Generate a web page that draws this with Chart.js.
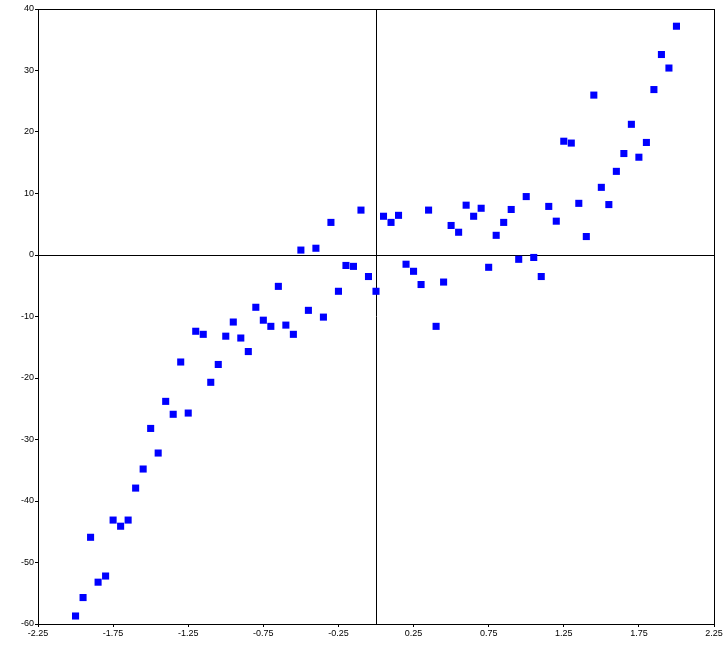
<!DOCTYPE html>
<html>
<head>
  <meta charset="UTF-8">
  <title>Scatter</title>
  <script src="https://cdn.jsdelivr.net/npm/chart.js@4/dist/chart.umd.min.js"></script>
  <style>
    body { margin: 0; background: #fff; }
    canvas { display: block; }
  </style>
  <script id="code">
    // x positions of the points (step 0.05 from -2 to 2)
    var xValues = [
      -2.00, -1.95, -1.90, -1.85, -1.80, -1.75, -1.70, -1.65, -1.60, -1.55,
      -1.50, -1.45, -1.40, -1.35, -1.30, -1.25, -1.20, -1.15, -1.10, -1.05,
      -1.00, -0.95, -0.90, -0.85, -0.80, -0.75, -0.70, -0.65, -0.60, -0.55,
      -0.50, -0.45, -0.40, -0.35, -0.30, -0.25, -0.20, -0.15, -0.10, -0.05,
       0.00,  0.05,  0.10,  0.15,  0.20,  0.25,  0.30,  0.35,  0.40,  0.45,
       0.50,  0.55,  0.60,  0.65,  0.70,  0.75,  0.80,  0.85,  0.90,  0.95,
       1.00,  1.05,  1.10,  1.15,  1.20,  1.25,  1.30,  1.35,  1.40,  1.45,
       1.50,  1.55,  1.60,  1.65,  1.70,  1.75,  1.80,  1.85,  1.90,  1.95,
       2.00
    ];
    // values
    var yValues = [
      -58.7, -55.7, -45.9, -53.2, -52.2, -43.1, -44.1, -43.1, -37.9, -34.8,
      -28.2, -32.2, -23.8, -25.9, -17.4, -25.7, -12.4, -12.9, -20.7, -17.8,
      -13.2, -10.9, -13.5, -15.7,  -8.5, -10.6, -11.6,  -5.1, -11.4, -12.9,
        0.8,  -9.0,   1.1, -10.1,   5.3,  -5.9,  -1.7,  -1.85,  7.3,  -3.5,
       -5.9,   6.3,   5.3,   6.45, -1.5,  -2.65, -4.8,   7.3, -11.6,  -4.4,
        4.8,   3.7,   8.1,   6.3,   7.6,  -2.0,   3.2,   5.3,   7.4,  -0.7,
        9.5,  -0.4,  -3.5,   7.9,   5.5,  18.5,  18.2,   8.4,   3.0,  26.0,
       11.0,   8.2,  13.6,  16.5,  21.25, 15.9,  18.3,  26.9,  32.6,  30.4,
       37.2
    ];
    var xTicks = [-2.25, -1.75, -1.25, -0.75, -0.25, 0.25, 0.75, 1.25, 1.75, 2.25];
    var yTicks = [-60, -50, -40, -30, -20, -10, 0, 10, 20, 30, 40];

    // frame around the plot plus the two zero axes
    var frameLines = {
      id: "frameLines",
      beforeDatasetsDraw: function(chart) {
        var ctx = chart.ctx, a = chart.chartArea;
        var x0 = Math.round(chart.scales.x.getPixelForValue(0)) + 0.5;
        var y0 = Math.round(chart.scales.y.getPixelForValue(0)) + 0.5;
        ctx.save();
        ctx.strokeStyle = "#000";
        ctx.lineWidth = 1;
        ctx.beginPath();
        ctx.moveTo(x0, a.top); ctx.lineTo(x0, a.bottom);
        ctx.moveTo(a.left, y0); ctx.lineTo(a.right, y0);
        ctx.stroke();
        ctx.strokeRect(Math.round(a.left) + 0.5, Math.round(a.top) + 0.5,
          Math.round(a.right - a.left), Math.round(a.bottom - a.top));
        ctx.restore();
      }
    };

    function init() {
      var points = [];
      for (var i = 0; i < xValues.length; i++) {
        points.push({ x: xValues[i], y: yValues[i] });
      }

      var tickFont = { family: "'Liberation Sans', Arial, sans-serif", size: 9 };

      new Chart(document.getElementById("myChart"), {
        type: "scatter",
        data: {
          datasets: [{
            data: points,
            pointStyle: "rect",
            radius: 5,
            borderWidth: 0,
            backgroundColor: "#0000ff",
            borderColor: "#0000ff"
          }]
        },
        options: {
          responsive: false,
          animation: false,
          layout: { padding: { top: 9, right: 13, left: 0, bottom: 0 } },
          plugins: { legend: { display: false }, tooltip: { enabled: false } },
          scales: {
            x: {
              type: "linear",
              min: -2.25, max: 2.25,
              afterBuildTicks: function(s) { s.ticks = xTicks.map(function(v) { return { value: v }; }); },
              afterFit: function(s) { s.height = 25; },
              grid: { drawOnChartArea: false, drawTicks: true, tickLength: 3, color: "#000" },
              border: { display: false },
              ticks: {
                padding: 1, color: "#000", font: tickFont, maxRotation: 0, autoSkip: false,
                callback: function(v) { return v.toFixed(2); }
              }
            },
            y: {
              type: "linear",
              min: -60, max: 40,
              afterBuildTicks: function(s) { s.ticks = yTicks.map(function(v) { return { value: v }; }); },
              afterFit: function(s) { s.width = 38; },
              grid: { drawOnChartArea: false, drawTicks: true, tickLength: 3, color: "#000" },
              border: { display: false },
              ticks: {
                padding: 1, color: "#000", font: tickFont, autoSkip: false,
                callback: function(v) { return String(v); }
              }
            }
          }
        },
        plugins: [frameLines]
      });
    }
  </script>
</head>
<body onload="init()">
  <canvas id="myChart" width="727" height="649"></canvas>
</body>
</html>
